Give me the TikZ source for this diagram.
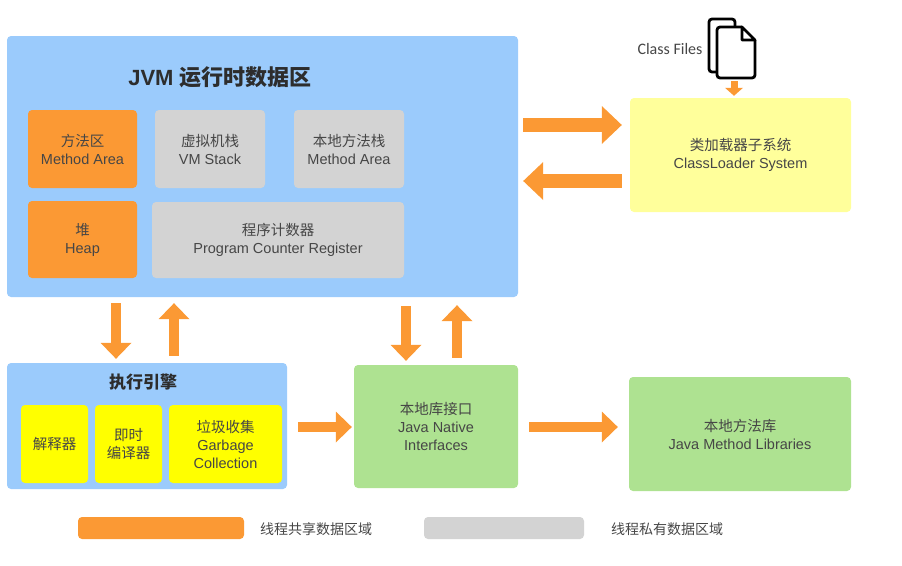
\documentclass[tikz,border=0pt]{standalone}
\usepackage{fontspec}
\setmainfont{Liberation Sans}
\newfontfamily\cjk{Noto Sans CJK SC}
\newfontfamily\filesfont{Carlito}
\usetikzlibrary{arrows.meta}
\definecolor{areablue}{RGB}{155,203,252}
\definecolor{shareorange}{RGB}{251,153,52}
\definecolor{privgray}{RGB}{211,211,211}
\definecolor{loaderyellow}{RGB}{255,255,155}
\definecolor{engineyellow}{RGB}{255,255,0}
\definecolor{nativegreen}{RGB}{174,226,145}
\definecolor{txtgray}{RGB}{70,70,70}
\definecolor{titlegray}{RGB}{45,45,45}
\tikzset{
  box/.style={rounded corners=4pt, align=center, inner sep=0pt, text=txtgray,
    font=\fontsize{14.5}{18}\selectfont},
  area/.style={box, fill=areablue},
  shared/.style={box, fill=shareorange},
  private/.style={box, fill=privgray},
  loaderbox/.style={box, fill=loaderyellow},
  enginebox/.style={box, fill=engineyellow},
  nativebox/.style={box, fill=nativegreen},
  heading/.style={text=titlegray, font=\bfseries\fontsize{#1}{#1}\selectfont},
  fatarrow/.style={draw=shareorange, line width=14pt,
    -{Triangle[length=20pt,width=38pt,line width=0pt]}},
  midarrow/.style={draw=shareorange, line width=10pt,
    -{Triangle[length=16pt,width=31pt,line width=0pt]}},
  tinyarrow/.style={draw=shareorange, line width=7pt,
    -{Triangle[length=8pt,width=18pt,line width=0pt]}}
}
\begin{document}
\begin{tikzpicture}[x=1pt, y=-1pt]
\useasboundingbox (0,0) rectangle (902,565);
% runtime data area
\node[area, minimum width=511pt, minimum height=261pt] (jvm) at (262.5,166.5) {};
\node[heading=22] (jvmtitle) at (220,77) {JVM {\cjk 运行时数据区}};
\node[shared, minimum width=109pt, minimum height=78pt] (method) at (82.5,149) {{\cjk 方法区}\\Method Area};
\node[private, minimum width=110pt, minimum height=78pt] (vmstack) at (210,149) {{\cjk 虚拟机栈}\\VM Stack};
\node[private, minimum width=110pt, minimum height=78pt] (nativestack) at (349,149) {{\cjk 本地方法栈}\\Method Area};
\node[shared, minimum width=109pt, minimum height=77pt] (heap) at (82.5,239.5) {{\cjk 堆}\\Heap};
\node[private, minimum width=252pt, minimum height=76pt] (pc) at (278,240) {{\cjk 程序计数器}\\Program Counter Register};
% class loader
\node[loaderbox, minimum width=221pt, minimum height=114pt] (loader) at (740.5,155) {{\cjk 类加载器子系统}\\ClassLoader System};
\node[text=txtgray, font=\filesfont\fontsize{16}{16}\selectfont] (filestxt) at (670,49) {Class Files};
\draw[line width=2.8pt, rounded corners=3pt] (717,72) -- (709,72) -- (709,19) -- (735,19) -- (735,27);
\draw[line width=2.8pt, rounded corners=3pt] (742,27) -- (717,27) -- (717,78) -- (755,78) -- (755,40);
\draw[line width=2.8pt, line join=round] (742,27) -- (742,40) -- (755,40) -- cycle;
\coordinate (files) at (734,80);
% execution engine
\node[area, minimum width=280pt, minimum height=126pt] (engine) at (147,426) {};
\node[heading=17] (enginetitle) at (143,382) {\cjk 执行引擎};
\node[enginebox, minimum width=67pt, minimum height=78pt] (interp) at (54.5,444) {\cjk 解释器};
\node[enginebox, minimum width=67pt, minimum height=78pt] (jit) at (128.5,444) {{\cjk 即时}\\{\cjk 编译器}};
\node[enginebox, minimum width=113pt, minimum height=78pt] (gc) at (225.5,444) {{\cjk 垃圾收集}\\Garbage\\Collection};
% native side
\node[nativebox, minimum width=164pt, minimum height=123pt] (jni) at (436,426.5) {{\cjk 本地库接口}\\Java Native\\Interfaces};
\node[nativebox, minimum width=222pt, minimum height=114pt] (jml) at (740,434) {{\cjk 本地方法库}\\Java Method Libraries};
% legend
\node[shared, minimum width=166pt, minimum height=22pt] (sharedkey) at (161,528) {};
\node[text=txtgray, font=\cjk\fontsize{14}{14}\selectfont] (sharedtxt) at (316,529) {线程共享数据区域};
\node[private, minimum width=160pt, minimum height=22pt] (privkey) at (504,528) {};
\node[text=txtgray, font=\cjk\fontsize{14}{14}\selectfont] (privtxt) at (667,529) {线程私有数据区域};
% arrows
\draw[fatarrow, shorten <=5pt, shorten >=8pt] (jvm.east |- 0,125) -- (loader.west |- 0,125);
\draw[fatarrow, shorten <=8pt, shorten >=5pt] (loader.west |- 0,181) -- (jvm.east |- 0,181);
\draw[tinyarrow, shorten <=1pt, shorten >=2pt] (files) -- (loader.north -| files);
\draw[midarrow, shorten <=6pt, shorten >=4pt] (jvm.south -| 116,0) -- (engine.north -| 116,0);
\draw[midarrow, shorten <=7pt, shorten >=6pt] (engine.north -| 174,0) -- (jvm.south -| 174,0);
\draw[midarrow, shorten <=9pt, shorten >=4pt] (jvm.south -| 406,0) -- (jni.north -| 406,0);
\draw[midarrow, shorten <=7pt, shorten >=8pt] (jni.north -| 457,0) -- (jvm.south -| 457,0);
\draw[midarrow, shorten <=11pt, shorten >=2pt] (engine.east |- 0,427) -- (jni.west |- 0,427);
\draw[midarrow, shorten <=11pt, shorten >=11pt] (jni.east |- 0,427) -- (jml.west |- 0,427);
\end{tikzpicture}
\end{document}
